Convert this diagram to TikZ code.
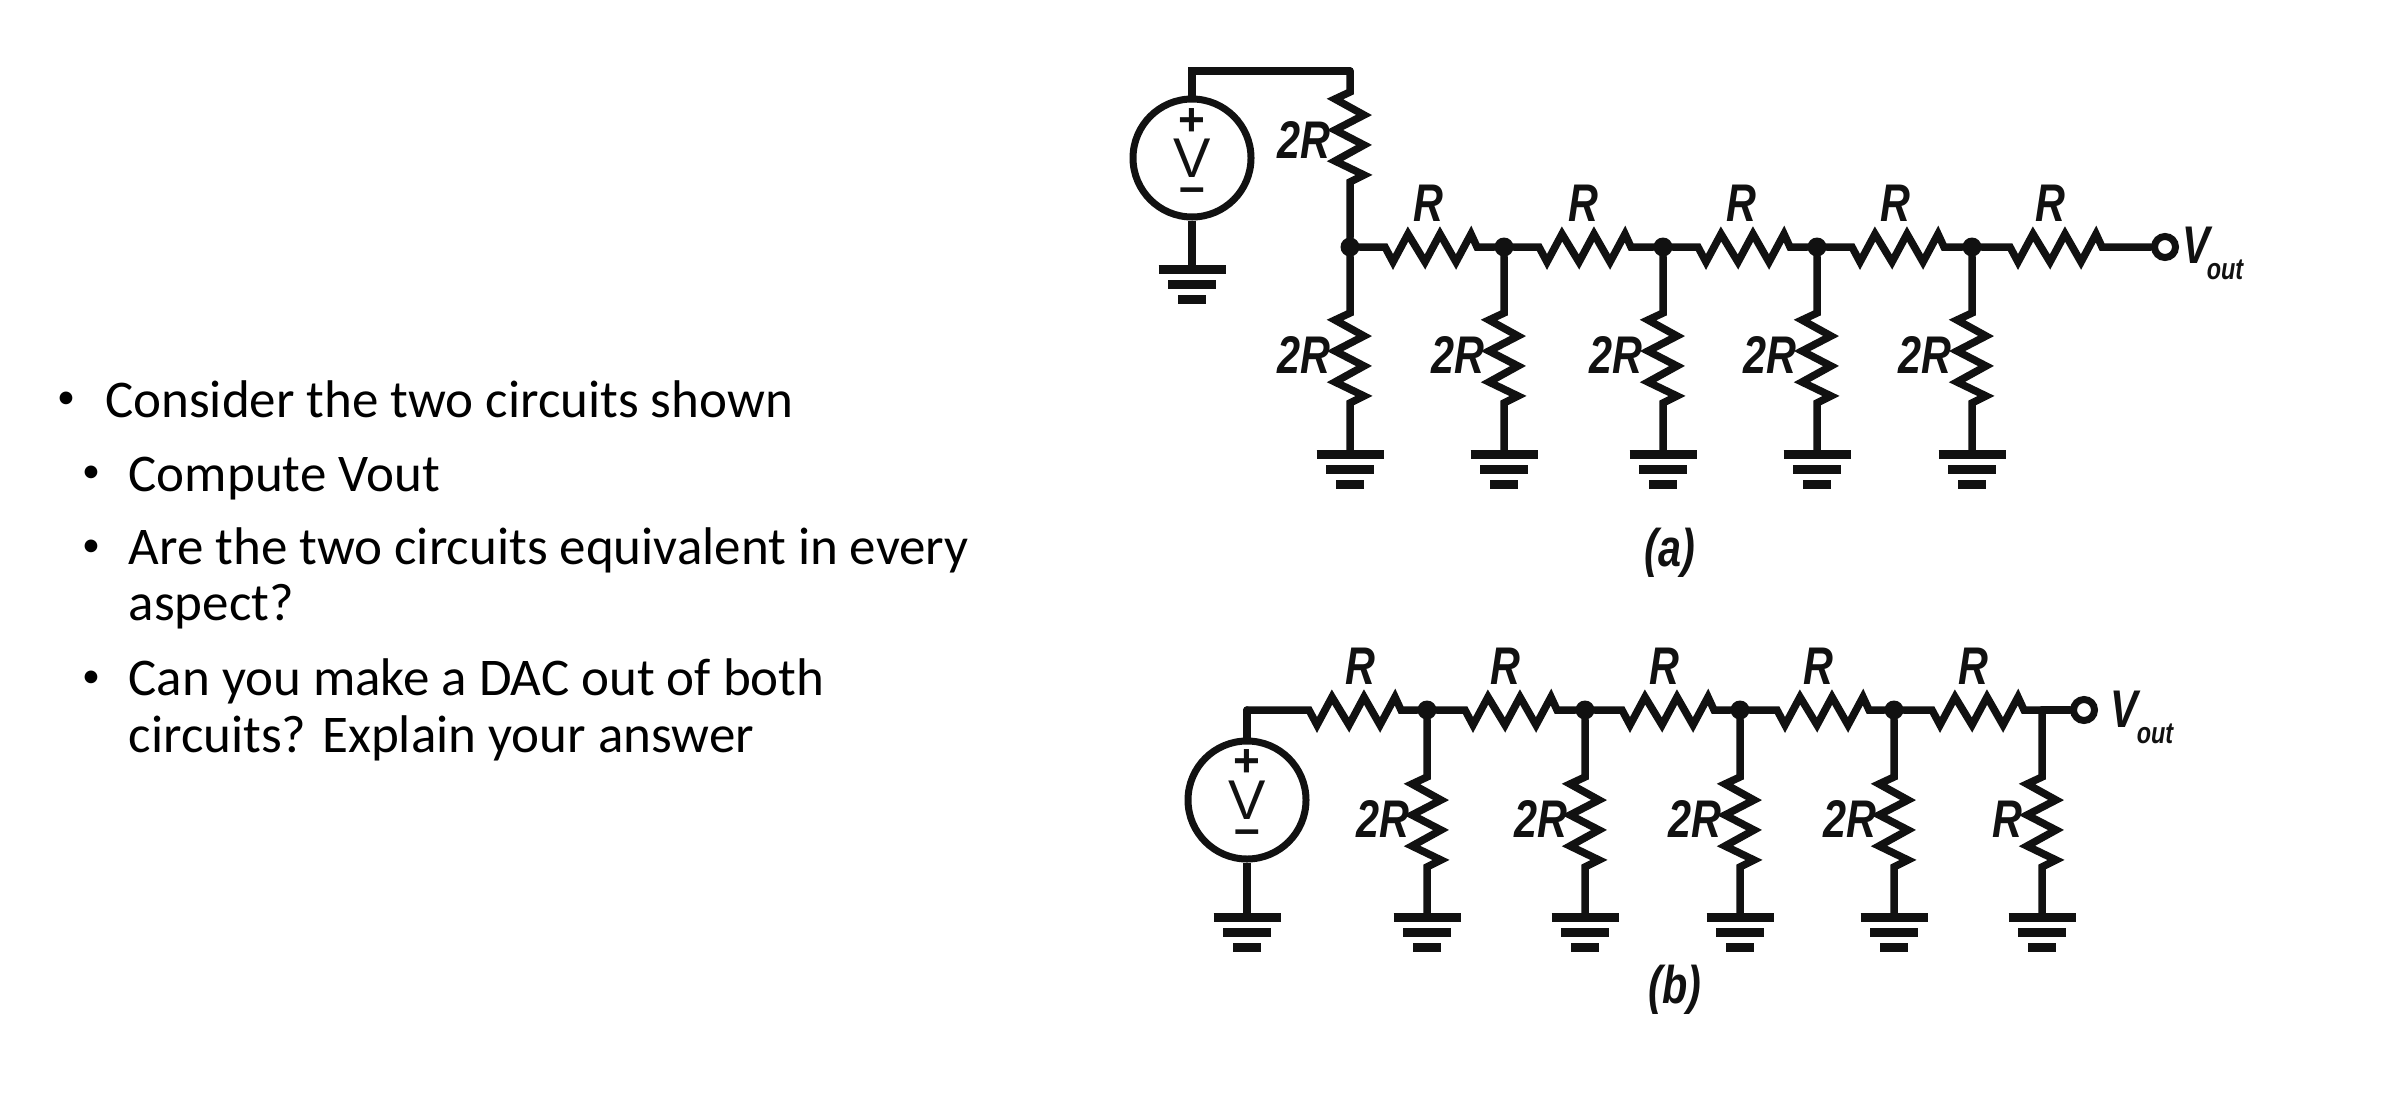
\documentclass[tikz,border=0pt]{standalone}
\usepackage{fontspec}
\usetikzlibrary{calc}
\setmainfont{Carlito}
\newfontfamily\labf{Liberation Sans}[UprightFont=* Bold Italic,FakeStretch=0.78]
\newfontfamily\arialf{Liberation Sans}
\definecolor{ink}{HTML}{111111}
\tikzset{
  wire/.style={draw=ink,line width=7.5pt,line cap=round,line join=miter},
  bar/.style={draw=ink,line width=9pt,line cap=butt},
  dot/.style={circle,fill=ink,inner sep=0pt,minimum size=19pt},
  term/.style={circle,draw=ink,fill=white,line width=7pt,inner sep=0pt,minimum size=21pt},
  src/.style={circle,draw=ink,fill=white,line width=7pt,inner sep=0pt,minimum size=118pt,
    text=ink,font=\arialf\fontsize{56}{56}\selectfont},
  sign/.style={text=ink,inner sep=0pt,font=\arialf\bfseries\fontsize{46}{46}\selectfont},
  lab/.style={text=ink,inner sep=0pt,anchor=base,font=\labf\fontsize{53}{53}\selectfont},
  sub/.style={text=ink,inner sep=0pt,anchor=base,font=\labf\fontsize{30}{30}\selectfont},
  para/.style={text=black,inner sep=0pt,anchor=base west,font=\fontsize{53}{56}\selectfont},
  bul/.style={text=black,inner sep=0pt,font=\fontsize{36}{36}\selectfont},
}
\newcommand\resV[3]{\draw[wire] (#1) -- ($(#1)+(0,#3)$) -- ++(-15,7) -- ++(29,16) -- ++(-29,15) -- ++(29,15) -- ++(-29,16) -- ++(29,14) -- ++(-14,7) -- (#2);}
\newcommand\resH[3]{\draw[wire] (#1) -- ($(#1)+(#3,0)$) -- ++(8,15) -- ++(15,-28) -- ++(17,28) -- ++(15,-28) -- ++(16,28) -- ++(15,-28) -- ++(6,13) -- (#2);}
\newcommand\gnd[1]{%
  \draw[bar] ($(#1)+(-33.5,0)$) -- ++(67,0);
  \draw[bar] ($(#1)+(-24,15)$) -- ++(48,0);
  \draw[bar] ($(#1)+(-14,30)$) -- ++(28,0);}
\begin{document}
\begin{tikzpicture}[x=1pt,y=-1pt]
\useasboundingbox[fill=white] (0,0) rectangle (2390,1098);
% ---------- text
\node[bul] (b0) at (66,400) {•};
\node[para] (t1) at (105,417) {Consider the two circuits shown};
\node[bul] (b1) at (91,474) {•};
\node[para] (t2) at (128.5,491) {Compute Vout};
\node[bul] (b2) at (91,548) {•};
\node[para] (t3) at (128.5,564) {Are the two circuits equivalent in every};
\node[para] (t4) at (128.5,620) {aspect?};
\node[bul] (b3) at (91,679) {•};
\node[para] (t5) at (128.5,695) {Can you make a DAC out of both};
\node[para] (t6) at (128.5,752) {circuits? Explain your answer};
% ---------- circuit (a)
\coordinate (atop) at (1350,71);
\node[dot] (a1) at (1350,247) {};
\node[dot] (a2) at (1504,247) {};
\node[dot] (a3) at (1663,247) {};
\node[dot] (a4) at (1817,247) {};
\node[dot] (a5) at (1972,247) {};
\node[term] (aout) at (2165,247) {};
\coordinate (ga0) at (1192,269);
\coordinate (ga1) at (1350,454);
\coordinate (ga2) at (1504,454);
\coordinate (ga3) at (1663,454);
\coordinate (ga4) at (1817,454);
\coordinate (ga5) at (1972,454);
\node[src] (sa) at (1192,158) {V};
\node[sign] (pa) at (1192,122) {+};
\node[sign] (ma) at (1192,195) {–};
\draw[wire] (sa) |- (atop);
\resV{atop}{a1}{21}
\draw[wire,line cap=butt] (sa) -- (ga0);
\resH{a1}{a2}{35}
\resH{a2}{a3}{35}
\resH{a3}{a4}{35}
\resH{a4}{a5}{35}
\resH{a5}{aout}{38}
\foreach \i in {1,...,5}{\resV{a\i}{ga\i}{66}}
\foreach \i in {0,...,5}{\gnd{ga\i}}
\node[lab] (la0) at (1304,158) {2R};
\foreach \n/\x in {1/1428,2/1583,3/1741,4/1895,5/2050}{\node[lab] (lar\n) at (\x,221) {R};}
\foreach \n/\x in {1/1304,2/1458,3/1616,4/1770,5/1925}{\node[lab] (las\n) at (\x,373) {2R};}
\node[lab] (vouta) at (2196,263) {V};
\node[sub] (outa) at (2225,279) {out};
\node[lab] (capa) at (1670,566) {(a)};
% ---------- circuit (b)
\coordinate (btop) at (1247,710);
\node[dot] (b1n) at (1427,710) {};
\node[dot] (b2n) at (1585,710) {};
\node[dot] (b3n) at (1740,710) {};
\node[dot] (b4n) at (1894,710) {};
\coordinate (b5n) at (2042,710);
\node[term] (bout) at (2084,710) {};
\coordinate (gb0) at (1247,917);
\coordinate (gb1) at (1427,917);
\coordinate (gb2) at (1585,917);
\coordinate (gb3) at (1740,917);
\coordinate (gb4) at (1894,917);
\coordinate (gb5) at (2042,917);
\node[src] (sb) at (1247,800) {V};
\node[sign] (pb) at (1247,763) {+};
\node[sign] (mb) at (1247,837) {–};
\draw[wire] (sb) -- (btop);
\draw[wire,line cap=butt] (sb) -- (gb0);
\resH{btop}{b1n}{62}
\resH{b1n}{b2n}{38}
\resH{b2n}{b3n}{37}
\resH{b3n}{b4n}{37}
\resH{b4n}{b5n}{38}
\draw[wire] (b5n) -- (bout);
\foreach \i in {1,...,5}{\resV{b\i n}{gb\i}{67}}
\foreach \i in {0,...,5}{\gnd{gb\i}}
\foreach \n/\x in {1/1360,2/1505,3/1664,4/1818,5/1973}{\node[lab] (lbr\n) at (\x,684) {R};}
\foreach \n/\x in {1/1383,2/1541,3/1695,4/1850}{\node[lab] (lbs\n) at (\x,837) {2R};}
\node[lab] (lbs5) at (2007,837) {R};
\node[lab] (voutb) at (2124,727) {V};
\node[sub] (outb) at (2155,743) {out};
\node[lab] (capb) at (1675,1003) {(b)};
\end{tikzpicture}
\end{document}
